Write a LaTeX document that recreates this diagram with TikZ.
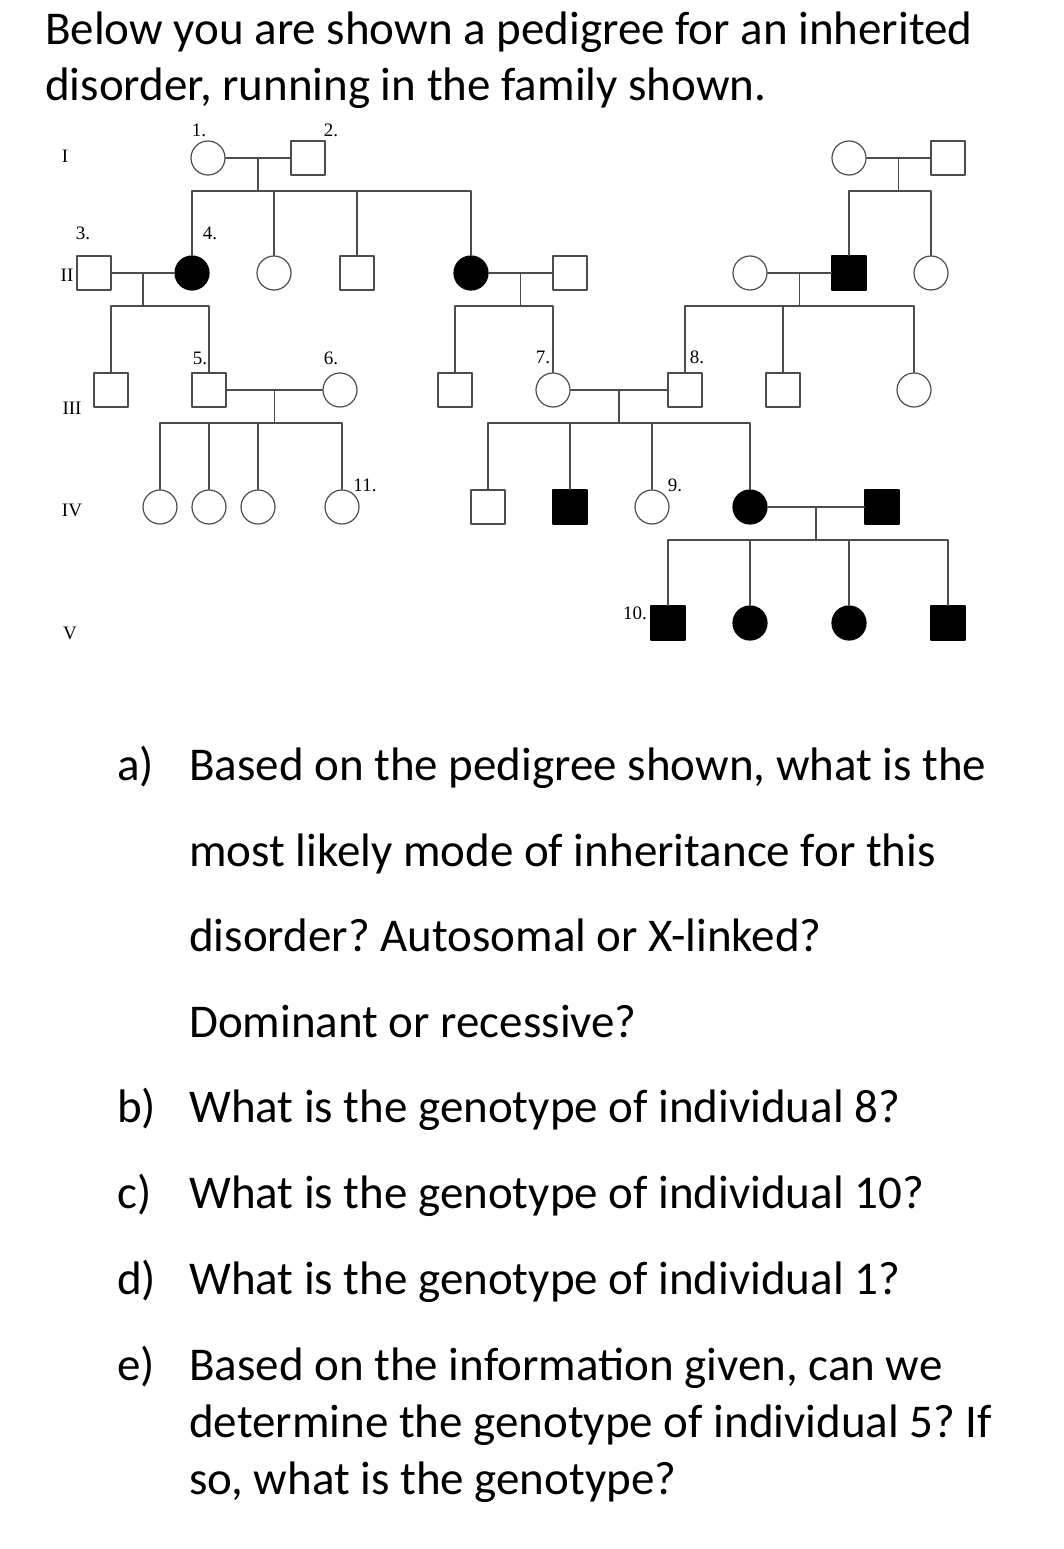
\documentclass[tikz,border=0pt]{standalone}
\usepackage{fontspec}
\setmainfont{Carlito}
\newfontfamily\pedfont{Liberation Serif}
\frenchspacing
\begin{document}
\begin{tikzpicture}[x=1pt, y=-1pt, line join=round, line cap=round,
    person/.style={draw=black!70, line width=1.2pt, inner sep=0pt, minimum size=34pt},
    male/.style={person, rectangle},
    female/.style={person, circle},
    aff/.style={fill=black, draw=black},
    pline/.style={draw=black!70, line width=1.2pt},
    num/.style={font=\pedfont\fontsize{19}{19}\selectfont, inner sep=0pt},
    qtext/.style={font=\fontsize{47}{57}\selectfont, inner sep=0pt, anchor=base west}]
    \useasboundingbox (0,0) rectangle (1063,1549);
    % heading
    \node[qtext] (head1) at (45,45) {Below you are shown a pedigree for an inherited};
    \node[qtext] (head2) at (45,101) {disorder, running in the family shown.};
    % generation labels
    \node[num] (gI) at (65,156) {I};
    \node[num] (gII) at (67,275) {II};
    \node[num] (gIII) at (72,408) {III};
    \node[num] (gIV) at (72,510) {IV};
    \node[num] (gV) at (70,633) {V};
    % generation I
    \node[female] (i1) at (208,158) {};
    \node[male] (i2) at (308,158) {};
    \node[female] (ia) at (849,158) {};
    \node[male] (ib) at (948,158) {};
    % generation II
    \node[male] (ii3) at (94,273) {};
    \node[female, aff] (ii4) at (192,273) {};
    \node[female] (iic) at (274,273) {};
    \node[male] (iid) at (357,273) {};
    \node[female, aff] (iie) at (471,273) {};
    \node[male] (iif) at (570,273) {};
    \node[female] (iig) at (750,273) {};
    \node[male, aff] (iih) at (849,273) {};
    \node[female] (iii) at (931,273) {};
    % generation III
    \node[male] (iiia) at (111,390) {};
    \node[male] (iii5) at (209,390) {};
    \node[female] (iii6) at (340,390) {};
    \node[male] (iiib) at (455,390) {};
    \node[female] (iii7) at (553,390) {};
    \node[male] (iii8) at (685,390) {};
    \node[male] (iiic) at (783,390) {};
    \node[female] (iiid) at (914,390) {};
    % generation IV
    \node[female] (iva) at (160,507) {};
    \node[female] (ivb) at (209,507) {};
    \node[female] (ivc) at (258,507) {};
    \node[female] (iv11) at (342,507) {};
    \node[male] (ive) at (488,507) {};
    \node[male, aff] (ivf) at (570,507) {};
    \node[female] (iv9) at (652,507) {};
    \node[female, aff] (ivg) at (750,507) {};
    \node[male, aff] (ivh) at (882,507) {};
    % generation V
    \node[male, aff] (v10) at (668,623) {};
    \node[female, aff] (vb) at (750,623) {};
    \node[female, aff] (vc) at (849,623) {};
    \node[male, aff] (vd) at (948,623) {};
    % numbers
    \node[num] (n1) at (199,130) {1.};
    \node[num] (n2) at (331,130) {2.};
    \node[num] (n3) at (83,233) {3.};
    \node[num] (n4) at (210,233) {4.};
    \node[num] (n5) at (200,358) {5.};
    \node[num] (n6) at (331,358) {6.};
    \node[num] (n7) at (543,357) {7.};
    \node[num] (n8) at (697,357) {8.};
    \node[num] (n9) at (675,485) {9.};
    \node[num] (n10) at (635,613) {10.};
    \node[num] (n11) at (365,485) {11.};
    % couples and their children
    \draw[pline] (i1) -- coordinate (m1) (i2);
    \draw[pline] (m1) -- ++(0,33) coordinate (s1);
    \foreach \c in {ii4,iic,iid,iie} \draw[pline] (\c) |- (s1);
    \draw[pline] (ia) -- coordinate (m2) (ib);
    \draw[pline] (m2) -- ++(0,33) coordinate (s2);
    \foreach \c in {iih,iii} \draw[pline] (\c) |- (s2);
    \draw[pline] (ii3) -- coordinate (m3) (ii4);
    \draw[pline] (m3) -- ++(0,33) coordinate (s3);
    \foreach \c in {iiia,iii5} \draw[pline] (\c) |- (s3);
    \draw[pline] (iie) -- coordinate (m4) (iif);
    \draw[pline] (m4) -- ++(0,33) coordinate (s4);
    \foreach \c in {iiib,iii7} \draw[pline] (\c) |- (s4);
    \draw[pline] (iig) -- coordinate (m5) (iih);
    \draw[pline] (m5) -- ++(0,33) coordinate (s5);
    \foreach \c in {iii8,iiic,iiid} \draw[pline] (\c) |- (s5);
    \draw[pline] (iii5) -- coordinate (m6) (iii6);
    \draw[pline] (m6) -- ++(0,33) coordinate (s6);
    \foreach \c in {iva,ivb,ivc,iv11} \draw[pline] (\c) |- (s6);
    \draw[pline] (iii7) -- coordinate (m7) (iii8);
    \draw[pline] (m7) -- ++(0,33) coordinate (s7);
    \foreach \c in {ive,ivf,iv9,ivg} \draw[pline] (\c) |- (s7);
    \draw[pline] (ivg) -- coordinate (m8) (ivh);
    \draw[pline] (m8) -- ++(0,33) coordinate (s8);
    \foreach \c in {v10,vb,vc,vd} \draw[pline] (\c) |- (s8);
    % questions
    \node[qtext] (qa) at (117,780) {a)};
    \node[qtext] (qa1) at (189,780) {Based on the pedigree shown, what is the};
    \node[qtext] (qa2) at (189,866) {most likely mode of inheritance for this};
    \node[qtext] (qa3) at (189,951) {disorder? Autosomal or X-linked?};
    \node[qtext] (qa4) at (189,1037) {Dominant or recessive?};
    \node[qtext] (qb) at (117,1122) {b)};
    \node[qtext] (qb1) at (189,1122) {What is the genotype of individual 8?};
    \node[qtext] (qc) at (117,1208) {c)};
    \node[qtext] (qc1) at (189,1208) {What is the genotype of individual 10?};
    \node[qtext] (qd) at (117,1294) {d)};
    \node[qtext] (qd1) at (189,1294) {What is the genotype of individual 1?};
    \node[qtext] (qe) at (117,1380) {e)};
    \node[qtext] (qe1) at (189,1380) {Based on the information given, can we};
    \node[qtext] (qe2) at (189,1437) {determine the genotype of individual 5? If};
    \node[qtext] (qe3) at (189,1494) {so, what is the genotype?};
\end{tikzpicture}
\end{document}
